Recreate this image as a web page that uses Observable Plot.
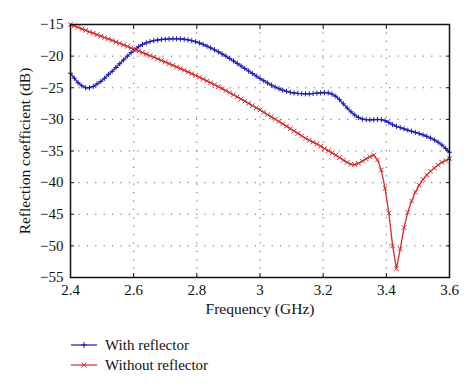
<!DOCTYPE html>
<html>
<head>
<meta charset="utf-8">
<script src="https://cdn.jsdelivr.net/npm/d3@7"></script>
<script src="https://cdn.jsdelivr.net/npm/@observablehq/plot@0.6"></script>
<style>
  html, body { margin: 0; padding: 0; background: #fff; }
  body { width: 474px; height: 391px; position: relative; font-family: "Liberation Serif", "Times New Roman", serif; }
  #chart svg, #chart svg text { font-family: "Liberation Serif", "Times New Roman", serif !important; font-variant: normal !important; }
  #legend { position: absolute; left: 0; top: 0; width: 474px; }
  .lg { position: absolute; left: 70px; height: 20px; display: flex; align-items: center; font-size: 15px; color: #111; }
  .lg svg { margin-right: 7px; }
</style>
</head>
<body>
<div id="chart"></div>
<div id="legend"></div>
<script>
// Frequency samples (GHz)
const freq = [
  2.400, 2.412, 2.424, 2.436, 2.448, 2.460, 2.472, 2.484, 2.496, 2.508,
  2.520, 2.532, 2.544, 2.556, 2.568, 2.580, 2.592, 2.604, 2.616, 2.628,
  2.640, 2.652, 2.664, 2.676, 2.688, 2.700, 2.712, 2.724, 2.736, 2.748,
  2.760, 2.772, 2.784, 2.796, 2.808, 2.820, 2.832, 2.844, 2.856, 2.868,
  2.880, 2.892, 2.904, 2.916, 2.928, 2.940, 2.952, 2.964, 2.976, 2.988,
  3.000, 3.012, 3.024, 3.036, 3.048, 3.060, 3.072, 3.084, 3.096, 3.108,
  3.120, 3.132, 3.144, 3.156, 3.168, 3.180, 3.192, 3.204, 3.216, 3.228,
  3.240, 3.252, 3.264, 3.276, 3.288, 3.300, 3.312, 3.324, 3.336, 3.348,
  3.360, 3.372, 3.384, 3.396, 3.408, 3.420, 3.432, 3.444, 3.456, 3.468,
  3.480, 3.492, 3.504, 3.516, 3.528, 3.540, 3.552, 3.564, 3.576, 3.588,
  3.600
];

// Reflection coefficient (dB) with reflector
const withReflector = [
  -22.7, -23.5, -24.2, -24.7, -25.0, -25.0, -24.8, -24.4, -24.0, -23.5,
  -22.9, -22.4, -21.8, -21.2, -20.6, -20.0, -19.45, -18.95, -18.5, -18.15,
  -17.9, -17.7, -17.55, -17.45, -17.37, -17.32, -17.28, -17.26, -17.26, -17.28,
  -17.33, -17.42, -17.55, -17.72, -17.92, -18.15, -18.42, -18.7, -19.0, -19.32,
  -19.65, -20.0, -20.38, -20.76, -21.15, -21.55, -21.95, -22.35, -22.75, -23.15,
  -23.55, -23.9, -24.25, -24.58, -24.88, -25.15, -25.38, -25.57, -25.72, -25.83,
  -25.9, -25.94, -25.96, -25.96, -25.92, -25.86, -25.8, -25.76, -25.8, -26.0,
  -26.35, -26.9, -27.55, -28.2, -28.8, -29.3, -29.7, -29.95, -30.05, -30.08,
  -30.05, -30.02, -30.05, -30.2, -30.5, -30.85, -31.1, -31.3, -31.5, -31.7,
  -31.88, -32.06, -32.25, -32.45, -32.68, -32.95, -33.25, -33.6, -34.05, -34.6,
  -35.2
];

// Reflection coefficient (dB) without reflector
const withoutReflector = [
  -15.0, -15.23, -15.46, -15.69, -15.92, -16.15, -16.38, -16.61, -16.84, -17.06,
  -17.29, -17.52, -17.76, -17.99, -18.23, -18.47, -18.71, -18.95, -19.19, -19.44,
  -19.68, -19.93, -20.18, -20.43, -20.68, -20.93, -21.19, -21.45, -21.71, -21.97,
  -22.24, -22.51, -22.78, -23.06, -23.34, -23.63, -23.92, -24.22, -24.52, -24.83,
  -25.14, -25.46, -25.78, -26.11, -26.44, -26.78, -27.12, -27.47, -27.82, -28.17,
  -28.52, -28.88, -29.24, -29.6, -29.97, -30.34, -30.71, -31.08, -31.46, -31.84,
  -32.22, -32.6, -32.98, -33.3, -33.6, -33.9, -34.25, -34.6, -34.95, -35.3,
  -35.65, -36.05, -36.45, -36.8, -37.1, -37.15, -36.95, -36.6, -36.25, -35.9,
  -35.65, -36.4, -38.0, -40.9, -44.8, -50.0, -53.6, -50.5, -47.1, -44.7,
  -42.9, -41.5, -40.4, -39.5, -38.8, -38.2, -37.7, -37.2, -36.8, -36.5,
  -36.2
];

const seriesNames = ["With reflector", "Without reflector"];
const seriesColors = ["#1c1cb0", "#d62a2a"];
const xTicks = [2.4, 2.6, 2.8, 3, 3.2, 3.4, 3.6];
const yTicks = [-55, -50, -45, -40, -35, -30, -25, -20, -15];
const xLabel = "Frequency (GHz)";
const yLabel = "Reflection coefficient (dB)";

const rowsWith = freq.map((f, i) => ({f, v: withReflector[i]}));
const rowsWithout = freq.map((f, i) => ({f, v: withoutReflector[i]}));

const font = "'Liberation Serif', 'Times New Roman', serif";
const gridStyle = {stroke: "#666", strokeWidth: 1, strokeDasharray: "1.2,7.2"};

const chart = Plot.plot({
  width: 474,
  height: 330,
  marginLeft: 70,
  marginRight: 25,
  marginTop: 24,
  marginBottom: 53,
  style: {fontFamily: font, fontSize: "15px", color: "#111", background: "#fff"},
  x: {domain: [2.4, 3.6]},
  y: {domain: [-55, -15]},
  marks: [
    Plot.ruleX(xTicks.slice(1, -1), gridStyle),
    Plot.ruleY(yTicks.slice(1, -1), gridStyle),
    Plot.line(rowsWith, {x: "f", y: "v", stroke: seriesColors[0], strokeWidth: 1.3}),
    Plot.dot(rowsWith, {x: "f", y: "v", symbol: "plus", r: 1.8, stroke: seriesColors[0], strokeWidth: 1}),
    Plot.line(rowsWithout, {x: "f", y: "v", stroke: seriesColors[1], strokeWidth: 1.3}),
    Plot.dot(rowsWithout, {x: "f", y: "v", symbol: "times", r: 2.2, stroke: seriesColors[1], strokeWidth: 1}),
    Plot.axisX(xTicks, {anchor: "bottom", tickSize: -4, tickPadding: 11, tickFormat: d => String(d), label: null, fontSize: 15}),
    Plot.axisX(xTicks, {anchor: "top", tickSize: -4, tickFormat: () => "", label: null}),
    Plot.axisY(yTicks, {anchor: "left", tickSize: -4, tickPadding: 11, label: null, fontSize: 15}),
    Plot.axisY(yTicks, {anchor: "right", tickSize: -4, tickFormat: () => "", label: null}),
    Plot.frame({stroke: "#111", strokeWidth: 1.5}),
    Plot.text([xLabel], {frameAnchor: "bottom", dy: 36, fontSize: 15.5, fill: "#111"}),
    Plot.text([yLabel], {frameAnchor: "left", textAnchor: "middle", dx: -45, rotate: -90, fontSize: 15.5, fill: "#111"})
  ]
});
document.getElementById("chart").appendChild(chart);

// Legend below the plot
const legend = document.getElementById("legend");
const legendTops = [335, 355];
const legendSymbols = ["M-3,0H3M0,-3V3", "M-2.5,-2.5L2.5,2.5M-2.5,2.5L2.5,-2.5"];
seriesNames.forEach((name, i) => {
  const row = document.createElement("div");
  row.className = "lg";
  row.style.top = legendTops[i] + "px";
  row.innerHTML = `<svg width="28" height="10" viewBox="-14 -5 28 10"><line x1="-13" y1="0" x2="13" y2="0" stroke="${seriesColors[i]}" stroke-width="1.2"/><path d="${legendSymbols[i]}" stroke="${seriesColors[i]}" stroke-width="1" fill="none"/></svg><span>${name}</span>`;
  legend.appendChild(row);
});
</script>
</body>
</html>
